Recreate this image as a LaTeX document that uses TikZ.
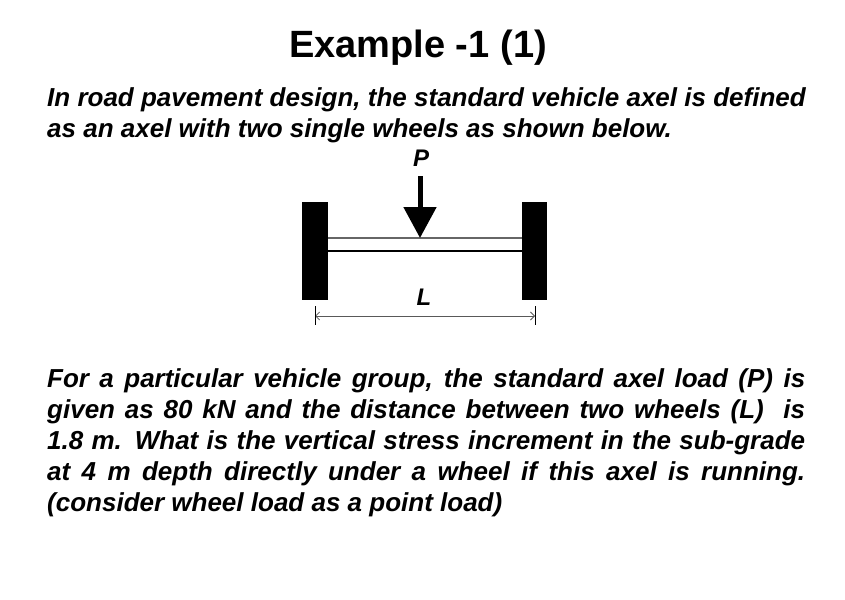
\documentclass[tikz,border=0pt]{standalone}
\usepackage{fontspec}
\setmainfont{Liberation Sans}
\usetikzlibrary{arrows.meta}
\begin{document}
\begin{tikzpicture}[x=1pt,y=-1pt,
  txt/.style={font=\fontsize{26}{31}\selectfont\bfseries\itshape, inner sep=0, anchor=north west},
  wheel/.style={fill=black, draw=none},
  lab/.style={font=\fontsize{24}{28}\selectfont\bfseries\itshape, inner sep=0}]
\useasboundingbox (0,0) rectangle (845,599);
\node[font=\fontsize{38}{44}\selectfont\bfseries, inner sep=0] (title) at (418,48) {Example -1 (1)};
\node[txt, align=left] (p1) at (47,87) {In road pavement design, the standard vehicle axel is defined\\as an axel with two single wheels as shown below.};
\fill[wheel] (302,202) rectangle (328,300) node[pos=0.5] (wl) {};
\fill[wheel] (522,202) rectangle (547,300) node[pos=0.5] (wr) {};
\coordinate (a1) at (328,238); \coordinate (a2) at (522,238);
\coordinate (b1) at (328,251); \coordinate (b2) at (522,251);
\draw[gray!80!black, line width=1.3] (a1) -- (a2);
\draw[black, line width=1.3] (b1) -- (b2);
\node[lab] (P) at (421,158) {P};
\coordinate (ps) at (420,176); \coordinate (pt) at (420,238);
\draw[line width=5, -{Triangle[width=32pt,length=31pt]}] (ps) -- (pt);
\node[lab] (L) at (424,297) {L};
\coordinate (d1) at (315,316); \coordinate (d2) at (535,316);
\draw[gray!70!black, line width=0.8, {Straight Barb[length=4pt]}-{Straight Barb[length=4pt]}] (d1) -- (d2);
\draw[black, line width=0.6] (315,306) -- (315,325) (535,306) -- (535,325);
\node[txt, text width=758pt, align=justify] (p2) at (47,368) {For a particular vehicle group, the standard axel load (P) is\linebreak given as 80 kN and the distance between two wheels (L)~ is\linebreak 1.8 m. What is the vertical stress increment in the sub-grade\linebreak at 4 m depth directly under a wheel if this axel is running.\linebreak (consider wheel load as a point load)\hfill\null};
\end{tikzpicture}
\end{document}
